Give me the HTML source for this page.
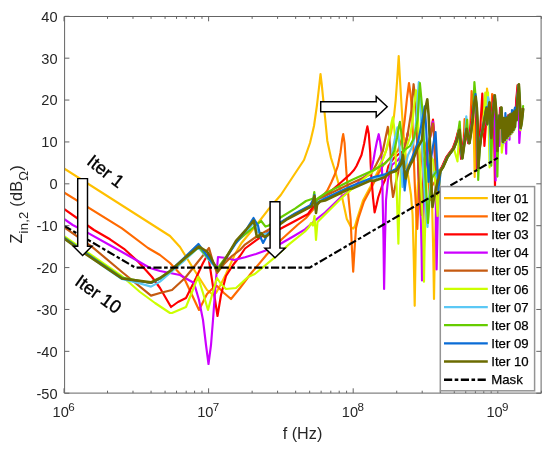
<!DOCTYPE html>
<html lang="en"><head><meta charset="utf-8"><title>Zin,2 vs f</title>
<style>html,body{margin:0;padding:0;background:#fff}svg{display:block}text{font-family:"Liberation Sans",Arial,sans-serif;fill:#262626}</style></head><body>
<svg width="550" height="449" viewBox="0 0 550 449">
<rect x="0" y="0" width="550" height="449" fill="#fff"/>
<defs><clipPath id="ax"><rect x="64.6" y="16.5" width="476.5" height="376.6"/></clipPath></defs>
<g clip-path="url(#ax)" fill="none" stroke-linejoin="round" stroke-linecap="round">
<polyline points="64.0,168.4 170.0,236.0 180.0,247.0 193.0,268.0 207.0,290.0 212.0,294.0 216.0,293.0 221.0,284.0 226.0,274.0 235.0,254.0 241.5,243.0 256.8,224.5 267.7,210.3 280.8,195.0 296.0,172.0 304.0,160.0 310.0,143.0 314.0,126.0 317.0,105.0 319.3,85.0 320.5,74.0 321.8,85.0 323.5,102.0 325.0,117.0 327.3,140.7 331.0,158.0 334.8,170.0 341.4,194.0 346.8,219.0 351.0,227.0 353.2,228.7 355.0,226.0 357.0,219.0 363.0,200.5 370.5,186.4 377.0,173.3 382.5,160.0 387.0,148.0 391.0,133.0 394.0,116.0 395.7,100.0 397.3,78.0 398.7,56.0 399.9,78.0 401.2,100.0 402.8,125.0 405.0,150.0 408.0,175.0 411.0,195.0 412.6,215.0 413.8,260.0 414.7,305.8 415.5,260.0 416.3,215.0 417.5,190.0 419.5,165.0 422.0,148.0 424.5,142.0 427.0,150.0 429.5,175.0 432.0,200.0 433.2,250.0 434.0,299.0 434.8,250.0 435.8,215.0 437.5,195.0 440.0,178.0 439.8,171.1 442.5,166.8 446.8,157.2 453.2,148.3 456.2,140.5 458.8,130.5 460.2,145.3 461.6,158.5 463.7,143.2 465.9,129.3 467.2,136.4 468.7,143.1 470.2,133.4 471.9,120.7 473.2,106.2 474.7,177.0 476.1,109.0 476.9,125.5 477.5,169.4 478.7,150.5 480.2,138.0 482.2,128.2 483.9,118.5 485.5,109.2 486.5,124.3 487.0,88.6 488.7,103.1 489.7,122.3 490.5,138.4 491.7,118.3 494.0,96.2 495.2,108.5 495.9,122.1 496.6,152.3 497.5,130.3 498.8,115.9 499.5,128.3 500.6,107.9 501.6,128.3 502.2,143.1 503.0,118.1 504.0,141.0 504.8,118.5 505.7,139.0 506.6,117.5 507.5,137.0 508.4,115.5 509.2,134.9 510.0,114.5 510.9,132.9 511.7,113.5 512.6,130.9 513.4,112.0 514.2,127.8 515.0,110.5 515.8,120.5 516.7,100.3 518.1,85.1 519.2,105.1 519.9,129.1 521.0,122.8 522.4,109.2" stroke="#FFC000" stroke-width="2.15"/>
<polyline points="64.0,192.4 122.0,228.4 148.0,248.0 160.0,255.0 170.0,263.0 184.0,278.0 192.0,295.0 199.0,310.0 203.0,302.0 207.0,294.0 212.0,289.0 217.0,286.0 224.0,293.0 231.0,299.0 240.0,288.0 250.5,274.0 266.8,254.5 282.0,239.0 297.4,225.0 306.0,218.0 316.0,206.0 322.0,197.0 327.2,190.7 331.5,182.0 335.0,174.0 337.8,166.0 340.5,152.4 342.3,138.7 343.2,134.1 344.6,143.2 346.0,166.0 346.4,172.0 348.5,197.3 350.6,219.0 352.0,250.0 353.2,271.6 354.5,250.0 356.0,228.0 358.5,218.0 364.0,201.5 371.5,187.4 378.0,174.3 384.0,164.0 390.0,158.0 394.0,154.5 397.8,151.0 402.4,137.4 404.8,119.0 407.0,98.0 409.0,83.0 411.0,98.0 412.3,119.0 413.5,150.0 415.0,190.0 417.3,229.0 419.0,190.0 421.0,160.0 424.0,142.0 426.0,150.0 428.0,172.0 430.0,200.0 432.0,186.0 436.0,180.0 439.5,173.0 439.6,171.1 442.3,166.8 446.6,157.2 453.0,148.3 456.0,140.5 458.6,130.5 460.0,145.3 461.4,158.7 463.5,143.2 464.6,119.0 467.0,136.4 468.5,143.1 470.0,133.4 471.6,91.0 473.0,106.2 474.7,97.9 475.9,109.0 476.7,125.5 477.3,170.2 478.5,150.9 480.0,138.0 482.0,128.2 483.7,118.5 485.3,109.2 486.3,124.3 487.2,112.6 488.5,103.1 489.5,122.3 490.3,138.7 492.1,94.0 493.8,96.2 495.0,108.5 495.7,122.1 496.4,153.1 497.3,130.5 498.6,115.9 499.3,128.4 500.4,107.9 501.4,128.5 502.0,143.7 502.8,118.1 503.8,141.7 504.6,118.5 505.5,139.6 506.4,117.5 507.3,137.6 508.2,115.5 509.0,135.5 509.8,114.5 510.7,133.5 511.5,113.5 512.4,131.4 513.2,112.0 514.0,128.3 514.8,110.5 515.6,120.8 516.5,100.3 517.9,85.1 519.0,105.1 519.7,129.7 520.8,123.3 522.2,109.3" stroke="#FF6A00" stroke-width="2.15"/>
<polyline points="64.0,209.0 94.0,230.0 110.0,239.3 124.0,248.8 138.0,261.5 152.0,277.0 160.0,288.0 171.0,307.0 178.0,302.0 186.0,298.0 196.0,278.0 203.0,263.0 208.0,254.0 212.0,280.0 217.5,316.0 221.0,295.0 226.0,276.0 233.0,265.0 240.0,256.0 245.0,248.5 256.0,240.3 269.0,231.5 280.0,229.0 295.0,221.0 308.0,214.0 316.0,203.0 325.0,196.2 341.4,182.0 350.0,174.4 354.0,170.0 356.5,166.0 361.5,155.0 364.2,143.2 366.5,130.5 367.4,126.4 368.8,134.0 370.2,152.4 370.6,163.0 371.4,177.6 373.0,197.3 374.6,212.4 376.5,205.0 378.3,197.0 381.7,187.0 385.0,180.0 388.4,166.0 394.0,158.0 400.0,153.0 404.2,151.0 407.9,132.8" stroke="#FF0000" stroke-width="2.15"/>
<polyline points="418.0,160.0 420.0,200.0 421.5,215.0 423.0,190.0 424.0,160.0 427.0,150.0 429.5,140.0 431.5,128.0 433.0,119.5 434.3,135.0 435.5,170.0 437.0,195.0 439.0,180.0 439.3,171.1 442.0,166.8 446.3,157.2 452.7,148.3 455.7,140.5 458.3,130.5 459.7,145.3 461.1,158.8 463.2,143.2 465.4,129.3 466.7,136.4 468.2,143.1 469.7,133.4 471.4,120.7 472.7,106.2 474.4,97.9 475.6,109.0 476.4,125.5 477.0,170.8 478.2,151.1 479.7,138.0 482.3,93.5 483.4,118.5 484.4,146.0 486.0,124.3 486.9,112.6 488.2,103.1 489.2,122.3 490.0,138.8 491.2,118.3 493.5,96.2 495.0,188.0 495.4,122.1 496.1,153.6 497.0,130.6 498.3,115.9 499.0,128.5 500.1,107.9 501.1,128.7 501.7,144.1 502.5,118.1 503.5,142.1 504.3,118.5 505.2,140.0 506.1,117.5 507.0,137.9 507.9,115.5 508.7,135.9 509.5,114.5 510.4,133.8 511.2,113.5 512.1,131.7 512.9,112.0 513.7,128.6 514.5,110.5 515.3,121.0 516.2,100.3 517.6,85.1 518.7,105.1 519.4,130.1 520.5,123.6 521.9,109.4" stroke="#FF0000" stroke-width="2.15"/>
<polyline points="64.0,219.0 72.7,225.0 87.4,232.6 110.9,245.8 130.0,256.5 150.0,268.0 160.0,271.0 180.0,275.0 194.0,283.0 199.0,300.0 203.0,320.0 206.0,345.0 208.5,364.0 211.0,345.0 213.0,320.0 215.5,285.0 218.0,257.0 226.0,258.0 234.0,260.0 245.0,257.2 256.0,254.0 265.7,250.6 281.0,243.5 294.0,236.0 305.0,229.4 318.0,218.0 325.0,212.5 341.8,196.4 346.8,193.0 363.6,177.5 370.8,172.0 373.5,160.0 375.0,151.0 377.0,141.0 378.7,134.2 380.2,142.0 381.4,151.0 381.8,162.0 382.5,190.0 383.5,240.0 384.1,289.0 385.0,240.0 386.0,200.0 388.0,180.0 392.0,165.0 398.0,160.0 402.0,155.0 404.2,151.0 407.9,132.8" stroke="#CC00FF" stroke-width="2.15"/>
<polyline points="416.5,120.0 418.0,160.0 419.8,200.0 420.9,220.0 421.6,250.0 422.0,280.4 422.5,250.0 423.2,220.0 425.5,170.0 428.0,150.0 430.8,133.0 433.0,121.5 434.4,141.0 435.5,180.0 436.6,269.5 437.8,215.0 439.5,180.0 440.0,171.2 442.7,166.8 447.0,157.2 453.4,148.3 456.4,140.5 459.0,130.5 460.4,145.3 461.8,158.9 463.9,143.2 466.1,129.3 467.4,136.4 468.9,143.1 470.4,133.4 472.1,120.7 473.4,106.2 475.1,97.9 476.3,109.0 477.1,125.5 477.7,171.4 478.9,151.3 480.4,138.0 482.4,128.2 484.1,118.5 485.7,109.2 486.7,124.3 487.6,112.6 488.9,103.1 489.9,122.3 490.7,139.0 491.9,118.3 494.2,96.2 495.6,180.5 496.1,122.1 496.8,154.1 497.7,130.7 499.0,115.9 499.6,146.0 500.8,107.9 501.8,128.8 502.4,144.6 503.2,118.1 504.2,142.5 505.0,118.5 506.2,153.8 506.8,117.5 507.7,138.3 508.6,115.5 509.5,139.6 510.2,114.5 511.1,134.2 511.9,113.5 512.8,132.1 513.6,112.0 514.4,128.9 515.2,110.5 516.0,121.2 516.9,100.3 518.3,85.1 519.3,143.0 520.1,130.5 521.2,123.9 522.6,109.5" stroke="#CC00FF" stroke-width="2.15"/>
<polyline points="64.0,227.2 91.8,246.6 122.0,272.0 151.0,295.6 160.0,293.0 172.0,290.0 185.0,278.0 197.0,263.0 209.0,248.0 213.0,262.0 217.0,273.0 224.0,264.0 232.0,256.0 240.0,250.0 245.0,244.6 256.0,237.0 269.0,229.4 280.0,223.0 295.0,214.0 310.0,207.0 320.0,198.5 341.4,188.0 352.0,183.0 365.0,177.0 371.0,174.0 376.0,165.0 380.0,157.0 382.8,151.0 385.5,138.0 387.8,126.9 389.3,138.0 390.5,151.0 390.9,165.0 391.0,180.0 393.0,197.0 394.5,190.0 396.0,182.0 398.3,171.7 400.0,160.0 402.0,154.0 404.2,151.0 407.9,132.8 411.5,110.0 412.6,95.0 413.6,84.2 414.8,95.0 416.5,120.0 418.0,160.0 420.0,200.0 421.5,215.0 423.0,190.0 425.5,160.0 428.5,145.0 431.0,133.0 433.0,123.5 434.5,142.0 436.0,175.0 437.5,192.0 439.5,176.0 440.2,171.1 442.9,166.8 447.2,157.2 453.6,148.3 456.6,140.5 459.2,130.5 460.6,145.3 462.0,158.5 464.1,143.2 466.3,129.3 467.6,136.4 469.1,143.1 470.6,133.4 472.3,120.7 473.6,106.2 475.3,97.9 476.5,109.0 477.3,125.5 477.9,169.7 479.1,150.7 480.6,138.0 482.6,128.2 484.3,118.5 485.9,109.2 486.9,124.3 487.8,112.6 489.1,103.1 490.1,122.3 490.9,138.5 492.1,118.3 494.4,96.2 495.6,108.5 496.3,122.1 497.0,152.6 497.9,130.3 499.2,115.9 499.9,128.3 501.0,107.9 502.0,128.4 502.6,143.3 503.4,118.1 504.4,141.2 505.2,118.5 506.1,139.2 507.0,117.5 507.9,137.2 508.8,115.5 509.6,135.1 510.4,114.5 511.3,133.1 512.1,113.5 513.0,131.0 513.8,112.0 514.6,127.9 515.4,110.5 516.2,120.6 517.1,100.3 518.5,85.1 519.6,105.1 520.3,129.3 521.4,123.0 522.8,109.2" stroke="#C55A11" stroke-width="2.15"/>
<polyline points="64.4,236.3 122.0,276.2 140.0,292.0 155.0,303.0 170.0,313.0 172.0,313.0 186.0,307.0 192.0,292.0 198.0,277.0 203.0,293.0 208.0,310.0 212.0,295.0 217.0,278.0 221.0,284.0 226.0,289.0 236.0,288.0 248.0,277.0 254.8,274.0 274.5,257.7 288.6,244.6 305.0,231.5 309.0,227.0 311.0,223.0 313.0,225.5 314.5,216.0 316.0,240.0 317.5,222.0 320.0,219.5 341.8,197.8 363.6,179.0 378.0,167.0 382.5,160.0 386.0,151.0 389.5,135.0 391.5,123.0 392.8,117.3 394.0,126.0 395.1,137.4 395.8,160.0 397.0,200.0 398.4,243.6 399.5,200.0 401.0,170.0 405.0,152.0 410.0,137.0 412.8,119.0 414.5,102.0 416.0,90.2 417.2,105.0 418.0,119.0 420.0,165.0 422.0,205.0 423.0,225.0 423.6,250.0 424.0,281.8 424.5,250.0 425.2,225.0 427.0,170.0 430.0,155.0 433.0,160.0 435.5,185.0 437.6,216.0 439.0,190.0 440.4,171.1 443.1,166.8 447.4,157.2 453.8,148.3 457.5,161.4 459.4,130.5 460.8,145.3 462.2,158.8 464.3,143.2 466.5,129.3 467.8,136.4 469.3,143.1 470.8,133.4 472.5,120.7 473.8,106.2 475.5,97.9 476.7,109.0 477.5,125.5 478.1,170.8 479.3,151.1 480.8,138.0 482.8,128.2 485.3,92.5 486.1,109.2 487.1,124.3 488.0,92.5 489.6,167.4 490.3,122.3 491.1,138.8 492.3,118.3 494.6,96.2 495.8,108.5 496.5,122.1 497.2,153.6 498.1,130.6 499.4,115.9 500.1,128.5 501.2,107.9 501.8,152.7 502.8,144.1 503.6,118.1 504.6,142.1 505.4,118.5 506.3,140.0 507.2,117.5 508.1,137.9 509.0,115.5 509.8,135.9 510.6,114.5 511.5,133.8 512.3,113.5 513.2,131.7 514.0,112.0 514.8,128.6 515.6,110.5 516.4,121.0 517.3,100.3 518.7,85.1 519.8,105.1 520.5,130.1 521.6,123.6 523.0,109.4" stroke="#CCFF00" stroke-width="2.15"/>
<polyline points="64.0,238.5 85.5,253.5 100.0,264.0 122.0,279.0 140.0,283.5 151.0,286.6 160.0,281.6 170.0,273.0 185.0,260.0 198.5,247.5 208.0,259.0 218.0,270.0 226.0,258.0 236.0,243.0 248.0,230.5 254.0,222.0 258.0,232.0 262.0,235.0 268.0,233.0 280.0,223.5 295.0,214.0 310.0,206.0 320.0,200.5 349.0,187.5 371.0,179.0 385.0,175.3 389.0,172.0 391.0,163.0 392.4,151.0 395.0,138.0 397.4,127.3 398.6,137.0 399.8,150.0 401.0,165.0 402.5,187.0 404.0,170.0 408.0,155.0 412.0,147.0 414.5,138.0 416.3,119.0 417.6,98.0 418.8,82.0 420.0,98.0 421.0,119.0 422.5,155.0 425.0,200.0 427.5,227.0 429.0,200.0 431.0,178.0 435.0,172.0 438.0,180.0 440.0,172.0 440.6,171.1 443.3,166.8 447.6,157.2 454.0,148.3 457.0,140.5 459.6,130.5 461.0,145.3 462.4,158.4 464.5,143.2 466.3,116.4 468.0,136.4 469.5,143.1 471.0,133.4 472.7,120.7 474.0,106.2 475.7,97.9 476.9,109.0 477.7,125.5 478.3,169.1 479.5,150.4 481.0,138.0 483.0,128.2 484.7,118.5 486.3,109.2 487.3,124.3 488.0,97.0 489.5,103.1 490.4,164.6 491.3,138.3 492.5,118.3 494.8,96.2 496.0,108.5 496.7,122.1 497.4,152.0 498.3,130.2 499.6,115.9 500.3,128.2 501.4,107.9 502.4,128.3 503.0,142.9 503.8,118.1 504.8,140.8 505.6,118.5 506.5,138.8 507.4,117.5 508.3,136.8 509.2,115.5 510.0,134.8 510.8,114.5 511.7,132.7 512.5,113.5 513.4,130.7 514.2,112.0 515.0,127.6 515.8,110.5 516.6,120.4 517.5,100.3 518.9,85.1 520.0,105.1 520.7,128.8 521.8,122.6 523.2,109.2" stroke="#5BC8F5" stroke-width="2.15"/>
<polyline points="64.0,237.3 85.5,252.5 122.0,277.5 151.0,283.0 160.0,278.5 170.0,271.5 185.0,258.5 199.0,247.0 208.0,258.0 218.0,268.0 226.0,257.0 236.0,242.0 248.0,232.0 255.0,226.0 261.2,221.0 265.5,226.6 268.8,225.5 279.7,218.0 295.0,208.6 306.0,201.0 313.3,198.5 314.3,192.0 315.6,208.0 317.0,199.0 325.0,193.5 352.3,179.8 374.0,170.0 385.0,163.5 391.0,157.0 394.2,151.0 397.0,138.0 399.0,126.0 399.9,121.9 401.0,130.0 402.4,146.5 402.9,153.0 404.5,150.0 410.0,146.0 414.0,138.0 416.3,127.0 417.6,119.0 418.8,100.0 419.9,83.0 421.5,100.0 423.2,119.0 425.0,170.0 428.0,223.0 429.5,200.0 432.0,178.0 436.0,172.0 440.0,170.0 440.6,171.0 443.3,166.8 447.6,157.2 454.0,148.3 457.0,140.5 459.7,121.5 461.0,145.3 462.4,158.2 464.5,143.2 467.2,119.7 468.0,136.4 469.5,143.1 471.0,133.4 472.7,120.7 474.4,82.1 475.7,97.9 476.9,109.0 477.7,125.5 478.2,180.0 479.5,150.0 481.0,138.0 483.0,128.2 484.7,118.5 486.3,109.2 487.3,124.3 488.2,112.6 489.5,103.1 490.5,122.3 491.3,165.8 492.5,118.3 494.8,96.2 496.0,108.5 496.7,122.1 497.4,176.6 498.3,130.0 499.6,115.9 500.3,128.0 501.4,107.9 502.4,128.0 503.0,142.0 503.8,118.1 504.8,140.0 505.6,118.5 506.5,138.0 507.4,117.5 508.3,136.0 509.2,115.5 510.0,134.0 510.8,114.5 511.7,132.0 512.5,113.5 513.4,130.0 514.2,112.0 515.0,127.0 515.8,110.5 516.6,120.0 517.5,100.3 518.9,85.1 520.0,105.1 520.7,128.0 521.8,122.0 523.1,106.0" stroke="#66CC00" stroke-width="2.15"/>
<polyline points="64.0,238.0 122.0,278.5 151.0,283.0 160.0,278.5 170.0,271.0 185.0,257.0 198.4,244.0 208.0,257.0 218.0,270.0 226.0,258.0 236.0,243.0 245.9,230.0 253.5,218.0 258.0,225.5 260.6,237.5 263.1,243.0 267.7,234.3 279.7,223.0 295.0,213.5 310.0,205.5 313.5,199.0 314.5,195.0 316.0,211.0 317.0,203.5 325.0,198.4 352.3,185.8 374.0,177.0 385.0,174.4 396.0,169.0 401.0,161.0 403.0,156.0 404.6,190.5 407.0,170.0 412.0,158.0 418.0,142.0 422.0,122.0 424.7,106.4 426.0,125.0 427.2,150.0 428.6,182.0 430.0,165.0 433.0,146.0 435.6,132.0 437.0,160.0 438.5,190.5 440.5,173.0 440.3,171.0 443.0,166.8 447.3,157.2 453.7,148.3 456.7,140.5 459.3,130.5 460.7,145.3 462.1,158.2 464.2,143.2 466.4,129.3 467.7,136.4 469.2,143.1 470.7,133.4 472.4,120.7 473.7,106.2 475.5,94.1 476.6,109.0 477.4,125.5 478.0,168.0 479.2,150.0 480.7,138.0 482.7,128.2 484.4,118.5 486.4,107.0 487.0,124.3 487.9,112.6 489.2,103.1 490.2,122.3 491.0,138.0 492.2,118.3 494.5,96.2 495.7,108.5 496.4,122.1 497.1,151.0 498.0,130.0 499.3,115.9 500.0,128.0 501.1,107.9 502.1,128.0 502.7,142.0 503.5,118.1 504.5,140.0 505.4,113.0 506.2,138.0 507.1,117.5 508.0,136.0 508.9,115.5 509.7,134.0 510.5,114.5 511.4,132.0 512.0,110.0 513.1,130.0 513.9,112.0 515.0,107.5 515.5,110.5 516.3,120.0 517.2,100.3 518.6,85.1 519.7,105.1 520.4,128.0 521.5,122.0 522.9,109.0" stroke="#0A6CD6" stroke-width="2.15"/>
<polyline points="64.0,238.5 85.5,254.0 122.0,278.5 151.0,282.4 160.0,278.0 170.0,271.0 185.0,258.0 198.9,246.5 207.0,251.5 210.5,257.0 217.8,271.0 226.0,258.0 236.0,240.8 245.9,230.0 253.8,220.6 256.8,236.5 258.5,237.0 261.2,233.2 264.5,237.0 267.7,235.4 279.7,224.5 287.4,219.0 295.0,215.0 310.0,207.0 312.0,206.0 313.5,200.0 314.5,196.0 316.0,213.0 317.0,205.0 318.5,203.0 320.0,201.5 325.0,200.5 349.0,189.0 352.3,188.5 371.0,180.4 374.0,181.0 385.0,177.0 389.8,173.0 396.0,171.0 400.0,166.0 401.4,163.3 403.0,155.0 404.5,170.0 405.7,178.5 408.0,170.0 411.0,163.3 413.0,160.0 417.7,147.7 422.0,140.0 423.2,126.0 425.5,108.0 427.3,99.3 428.6,115.0 429.5,135.0 430.8,164.0 431.8,195.0 432.5,207.0 434.0,198.0 436.3,187.0 440.6,171.0 443.3,166.8 447.6,157.0 454.0,148.0 457.0,140.0 459.6,129.8 461.0,145.0 462.4,158.2 464.5,143.0 466.7,128.7 468.0,136.0 469.5,143.0 471.0,133.0 472.7,120.0 474.0,105.0 475.7,96.5 476.9,108.0 477.7,125.0 478.3,168.0 479.5,150.0 481.0,138.0 483.0,128.0 484.7,118.0 486.3,108.4 487.3,124.0 488.2,112.0 489.5,102.2 490.5,122.0 491.3,138.0 492.5,118.0 494.8,95.2 496.0,108.0 496.7,122.0 497.4,151.0 498.3,130.0 499.6,115.7 500.3,128.0 501.4,107.5 502.4,128.0 503.0,142.0 503.8,118.0 504.8,140.0 505.6,118.5 506.5,138.0 507.4,117.5 508.3,136.0 509.2,115.5 510.0,134.0 510.8,114.5 511.7,132.0 512.5,113.5 513.4,130.0 514.2,112.0 515.0,127.0 515.8,110.5 516.6,120.0 517.5,100.0 518.9,84.4 520.0,105.0 520.7,128.0 521.8,122.0 523.2,109.0" stroke="#6B6B00" stroke-width="2.6"/>
<polyline points="64.0,225.7 135.2,267.6 309.7,267.6 497.8,157.9" stroke="#000" stroke-width="2.15" stroke-dasharray="8.2 2.5 3.6 2.5" stroke-linecap="butt" stroke-linejoin="miter"/>
</g>
<g fill="none" shape-rendering="auto"><rect x="64.6" y="16.5" width="476.5" height="376.6" fill="none" stroke="#646464" stroke-width="1"/><path d="M64.6 393.22h4.8M541.1 393.22h-4.8" stroke="#646464" stroke-width="1"/><path d="M64.6 351.34h4.8M541.1 351.34h-4.8" stroke="#646464" stroke-width="1"/><path d="M64.6 309.46h4.8M541.1 309.46h-4.8" stroke="#646464" stroke-width="1"/><path d="M64.6 267.58h4.8M541.1 267.58h-4.8" stroke="#646464" stroke-width="1"/><path d="M64.6 225.70h4.8M541.1 225.70h-4.8" stroke="#646464" stroke-width="1"/><path d="M64.6 183.82h4.8M541.1 183.82h-4.8" stroke="#646464" stroke-width="1"/><path d="M64.6 141.94h4.8M541.1 141.94h-4.8" stroke="#646464" stroke-width="1"/><path d="M64.6 100.06h4.8M541.1 100.06h-4.8" stroke="#646464" stroke-width="1"/><path d="M64.6 58.18h4.8M541.1 58.18h-4.8" stroke="#646464" stroke-width="1"/><path d="M64.6 16.30h4.8M541.1 16.30h-4.8" stroke="#646464" stroke-width="1"/><path d="M64.00 393.1v-4.8M64.00 16.5v4.8" stroke="#646464" stroke-width="1"/><path d="M107.53 393.1v-2.4M107.53 16.5v2.4" stroke="#646464" stroke-width="1"/><path d="M132.99 393.1v-2.4M132.99 16.5v2.4" stroke="#646464" stroke-width="1"/><path d="M151.06 393.1v-2.4M151.06 16.5v2.4" stroke="#646464" stroke-width="1"/><path d="M165.07 393.1v-2.4M165.07 16.5v2.4" stroke="#646464" stroke-width="1"/><path d="M176.52 393.1v-2.4M176.52 16.5v2.4" stroke="#646464" stroke-width="1"/><path d="M186.20 393.1v-2.4M186.20 16.5v2.4" stroke="#646464" stroke-width="1"/><path d="M194.59 393.1v-2.4M194.59 16.5v2.4" stroke="#646464" stroke-width="1"/><path d="M201.98 393.1v-2.4M201.98 16.5v2.4" stroke="#646464" stroke-width="1"/><path d="M208.60 393.1v-4.8M208.60 16.5v4.8" stroke="#646464" stroke-width="1"/><path d="M252.13 393.1v-2.4M252.13 16.5v2.4" stroke="#646464" stroke-width="1"/><path d="M277.59 393.1v-2.4M277.59 16.5v2.4" stroke="#646464" stroke-width="1"/><path d="M295.66 393.1v-2.4M295.66 16.5v2.4" stroke="#646464" stroke-width="1"/><path d="M309.67 393.1v-2.4M309.67 16.5v2.4" stroke="#646464" stroke-width="1"/><path d="M321.12 393.1v-2.4M321.12 16.5v2.4" stroke="#646464" stroke-width="1"/><path d="M330.80 393.1v-2.4M330.80 16.5v2.4" stroke="#646464" stroke-width="1"/><path d="M339.19 393.1v-2.4M339.19 16.5v2.4" stroke="#646464" stroke-width="1"/><path d="M346.58 393.1v-2.4M346.58 16.5v2.4" stroke="#646464" stroke-width="1"/><path d="M353.20 393.1v-4.8M353.20 16.5v4.8" stroke="#646464" stroke-width="1"/><path d="M396.73 393.1v-2.4M396.73 16.5v2.4" stroke="#646464" stroke-width="1"/><path d="M422.19 393.1v-2.4M422.19 16.5v2.4" stroke="#646464" stroke-width="1"/><path d="M440.26 393.1v-2.4M440.26 16.5v2.4" stroke="#646464" stroke-width="1"/><path d="M454.27 393.1v-2.4M454.27 16.5v2.4" stroke="#646464" stroke-width="1"/><path d="M465.72 393.1v-2.4M465.72 16.5v2.4" stroke="#646464" stroke-width="1"/><path d="M475.40 393.1v-2.4M475.40 16.5v2.4" stroke="#646464" stroke-width="1"/><path d="M483.79 393.1v-2.4M483.79 16.5v2.4" stroke="#646464" stroke-width="1"/><path d="M491.18 393.1v-2.4M491.18 16.5v2.4" stroke="#646464" stroke-width="1"/><path d="M497.80 393.1v-4.8M497.80 16.5v4.8" stroke="#646464" stroke-width="1"/><path d="M541.33 393.1v-2.4M541.33 16.5v2.4" stroke="#646464" stroke-width="1"/></g>
<text x="57.5" y="398.5" font-size="14.6" text-anchor="end">-50</text>
<text x="57.5" y="356.6" font-size="14.6" text-anchor="end">-40</text>
<text x="57.5" y="314.8" font-size="14.6" text-anchor="end">-30</text>
<text x="57.5" y="272.9" font-size="14.6" text-anchor="end">-20</text>
<text x="57.5" y="231.0" font-size="14.6" text-anchor="end">-10</text>
<text x="57.5" y="189.1" font-size="14.6" text-anchor="end">0</text>
<text x="57.5" y="147.2" font-size="14.6" text-anchor="end">10</text>
<text x="57.5" y="105.4" font-size="14.6" text-anchor="end">20</text>
<text x="57.5" y="63.5" font-size="14.6" text-anchor="end">30</text>
<text x="57.5" y="21.6" font-size="14.6" text-anchor="end">40</text>
<text x="52.6" y="417.4" font-size="14.6">10<tspan dx="-0.6" dy="-6.2" font-size="11.6">6</tspan></text>
<text x="197.2" y="417.4" font-size="14.6">10<tspan dx="-0.6" dy="-6.2" font-size="11.6">7</tspan></text>
<text x="341.8" y="417.4" font-size="14.6">10<tspan dx="-0.6" dy="-6.2" font-size="11.6">8</tspan></text>
<text x="486.4" y="417.4" font-size="14.6">10<tspan dx="-0.6" dy="-6.2" font-size="11.6">9</tspan></text>
<text x="302.5" y="439.2" font-size="16.2" text-anchor="middle">f (Hz)</text>
<text transform="translate(21.8,204.4) rotate(-90)" font-size="16.2" text-anchor="middle" letter-spacing="0.25">Z<tspan dy="6.5" font-size="13">in,2</tspan><tspan dy="-6.5"> (dB</tspan><tspan dy="6.5" font-size="13">Ω</tspan><tspan dy="-6.5">)</tspan></text>
<path d="M77.69999999999999 178.6H87.5V246.3H91.89999999999999L82.6 255.5L73.3 246.3H77.69999999999999Z" fill="#fff" stroke="#000" stroke-width="1.45" stroke-linejoin="miter"/>
<path d="M270.1 201.8H279.9V248.1H285.1L275 257.7L264.9 248.1H270.1Z" fill="#fff" stroke="#000" stroke-width="1.45" stroke-linejoin="miter"/>
<path d="M320.7 101.7H376.2V96.5L387.2 106.7L376.2 117V111.7H320.7Z" fill="#fff" stroke="#000" stroke-width="1.45" stroke-linejoin="miter"/>
<text transform="translate(85.8,163.6) rotate(38)" font-size="18" style="fill:#000;stroke:#000;stroke-width:0.35">Iter 1</text>
<text transform="translate(73.8,284) rotate(36)" font-size="18.3" style="fill:#000;stroke:#000;stroke-width:0.35">Iter 10</text>
<rect x="440.3" y="186.6" width="94.30000000000001" height="204.20000000000002" fill="#fff" stroke="#949494" stroke-width="1.5"/>
<path d="M444 198.1H487.8" stroke="#FFC000" stroke-width="2.3" fill="none"/>
<text x="491.3" y="202.8" font-size="13.2" style="fill:#000;stroke:#000;stroke-width:0.25">Iter 01</text>
<path d="M444 216.3H487.8" stroke="#FF6A00" stroke-width="2.3" fill="none"/>
<text x="491.3" y="221.0" font-size="13.2" style="fill:#000;stroke:#000;stroke-width:0.25">Iter 02</text>
<path d="M444 234.4H487.8" stroke="#FF0000" stroke-width="2.3" fill="none"/>
<text x="491.3" y="239.1" font-size="13.2" style="fill:#000;stroke:#000;stroke-width:0.25">Iter 03</text>
<path d="M444 252.6H487.8" stroke="#CC00FF" stroke-width="2.3" fill="none"/>
<text x="491.3" y="257.3" font-size="13.2" style="fill:#000;stroke:#000;stroke-width:0.25">Iter 04</text>
<path d="M444 270.7H487.8" stroke="#C55A11" stroke-width="2.3" fill="none"/>
<text x="491.3" y="275.4" font-size="13.2" style="fill:#000;stroke:#000;stroke-width:0.25">Iter 05</text>
<path d="M444 288.9H487.8" stroke="#CCFF00" stroke-width="2.3" fill="none"/>
<text x="491.3" y="293.6" font-size="13.2" style="fill:#000;stroke:#000;stroke-width:0.25">Iter 06</text>
<path d="M444 307.1H487.8" stroke="#5BC8F5" stroke-width="2.3" fill="none"/>
<text x="491.3" y="311.8" font-size="13.2" style="fill:#000;stroke:#000;stroke-width:0.25">Iter 07</text>
<path d="M444 325.2H487.8" stroke="#66CC00" stroke-width="2.3" fill="none"/>
<text x="491.3" y="329.9" font-size="13.2" style="fill:#000;stroke:#000;stroke-width:0.25">Iter 08</text>
<path d="M444 343.4H487.8" stroke="#0A6CD6" stroke-width="2.3" fill="none"/>
<text x="491.3" y="348.1" font-size="13.2" style="fill:#000;stroke:#000;stroke-width:0.25">Iter 09</text>
<path d="M444 361.5H487.8" stroke="#6B6B00" stroke-width="2.7" fill="none"/>
<text x="491.3" y="366.2" font-size="13.2" style="fill:#000;stroke:#000;stroke-width:0.25">Iter 10</text>
<path d="M444 379.7H487.8" stroke="#000" stroke-width="2.4" stroke-dasharray="8.2 2.5 3.6 2.5" fill="none"/>
<text x="491.3" y="384.4" font-size="13.2" style="fill:#000;stroke:#000;stroke-width:0.25">Mask</text>
</svg></body></html>
